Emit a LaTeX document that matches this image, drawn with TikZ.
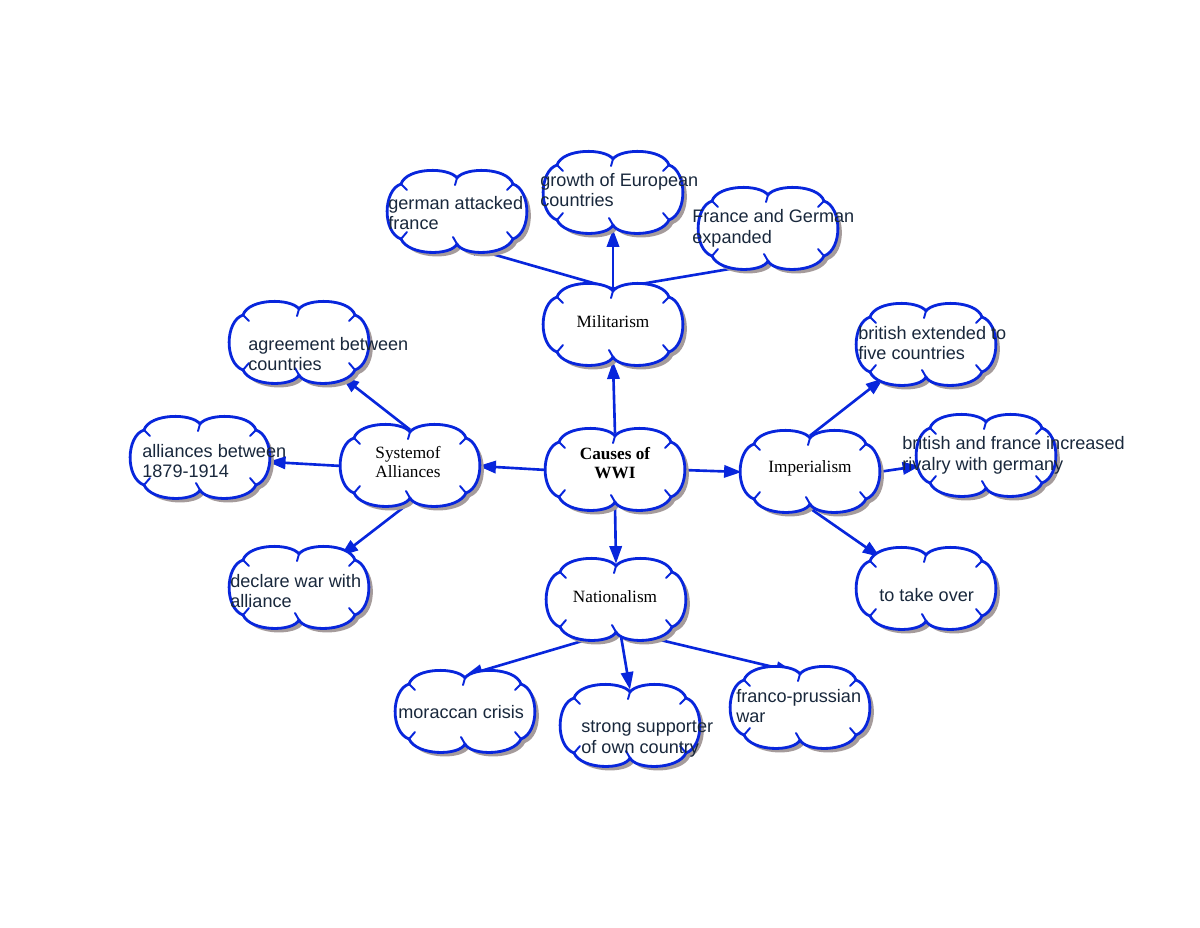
\documentclass[tikz,border=0pt]{standalone}
\usepackage{fontspec}
\setmainfont{Liberation Serif}
\newfontfamily\lsans{Liberation Sans}
\usetikzlibrary{shapes.geometric,arrows.meta,backgrounds}
\definecolor{cblue}{RGB}{8,38,220}
\definecolor{ctext}{RGB}{25,40,60}
\definecolor{cshadow}{RGB}{165,155,155}
\def\cloudshape{(0,-34) .. controls (8,-45) and (50,-45) .. (56,-28)
  .. controls (74,-22) and (75,20) .. (56,27)
  .. controls (48,44) and (6,44) .. (0,32)
  .. controls (-6,44) and (-48,44) .. (-56,27)
  .. controls (-75,20) and (-74,-22) .. (-56,-28)
  .. controls (-50,-45) and (-8,-45) .. cycle}
\newcommand\mkcloud[3]{%
  \begin{scope}[shift={(#2,#3)}]
    \fill[cshadow] [shift={(4,4)}] \cloudshape;
    \filldraw[cloudline, fill=white] \cloudshape;
    \draw[tickline] (56,-28) -- (50,-22);
    \draw[tickline] (56,27) -- (50,20);
    \draw[tickline] (-56,27) -- (-50,20);
    \draw[tickline] (-56,-28) -- (-50,-22);
    \draw[tickline] (0,-34) -- (-2,-27);
    \draw[tickline] (0,32) -- (-4,25);
  \end{scope}
  \node[hold] (#1) at (#2,#3) {};}
\begin{document}
\begin{tikzpicture}[x=0.02cm,y=-0.02cm,
 cloudline/.style={draw=cblue, line width=1.6pt, line join=round},
 tickline/.style={draw=cblue, line width=1.1pt, line cap=round},
 hold/.style={ellipse, minimum width=2.72cm, minimum height=1.44cm, inner sep=0pt},
 main/.style={font=\fontsize{9.8}{11}\selectfont, align=center, text=black},
 lbl/.style={anchor=west, inner sep=0pt, align=left, text=ctext,
   font=\lsans\fontsize{10.3}{11.8}\selectfont},
 edge/.style={draw=cblue, line width=1.5pt, -{Triangle[length=10pt,width=7pt]}}]
\useasboundingbox (0,0) rectangle (1200,927);

% main clouds
\mkcloud{cause}{615}{470}
\mkcloud{mil}{613}{325}
\mkcloud{sys}{410}{466}
\mkcloud{imp}{810}{472}
\mkcloud{nat}{616}{600}
% outer clouds
\mkcloud{germ}{457}{212}
\mkcloud{grow}{613}{193}
\mkcloud{fra}{768}{229}
\mkcloud{agr}{299}{343}
\mkcloud{all}{200}{458}
\mkcloud{decl}{299}{588}
\mkcloud{brx}{926}{345}
\mkcloud{brf}{986}{456}
\mkcloud{take}{926}{589}
\mkcloud{mor}{465}{712}
\mkcloud{str}{630}{726}
\mkcloud{frp}{800}{708}

% main labels
\node[main, font=\bfseries\fontsize{9.8}{11}\selectfont] (tcause) at (615,463) {Causes of\\WWI};
\node[main] (tmil) at (613,322) {Militarism};
\node[main] (tsys) at (408,462) {Systemof\\Alliances};
\node[main] (timp) at (810,468) {Imperialism};
\node[main] (tnat) at (615,597) {Nationalism};

% outer labels
\node[lbl] (tgerm) at (388,213) {german attacked\\france};
\node[lbl] (tgrow) at (540,190) {growth of European\\countries};
\node[lbl] (tfra) at (692,228) {France and German\\expanded};
\node[lbl] (tagr) at (248,354) {agreement between\\countries};
\node[lbl] (tall) at (142,461) {alliances between\\1879-1914};
\node[lbl] (tdecl) at (230,591) {declare war with\\alliance};
\node[lbl] (tbrx) at (858,343) {british extended to\\five countries};
\node[lbl] (tbrf) at (902,455) {british and france increased\\rivalry with germany};
\node[lbl] (ttake) at (879,595) {to take over};
\node[lbl] (tmor) at (398,712) {moraccan crisis};
\node[lbl] (tstr) at (581,739) {strong supporter\\of own country};
\node[lbl] (tfrp) at (736,706) {franco-prussian\\war};

\begin{scope}[on background layer]
\draw[edge] (cause.north) -- (mil.south);
\draw[edge] (cause.west) -- (sys.east);
\draw[edge] (cause.east) -- (imp.west);
\draw[edge] (cause.south) -- (nat.north);
\draw[edge] (mil.north) -- (grow.south);
\draw[edge, shorten >=-6pt] (mil.north) -- (germ.-70);
\draw[edge, shorten >=-6pt] (mil.north) -- (fra.-110);
\draw[edge, shorten >=3pt] (sys.north) -- (agr);
\draw[edge] (sys.west) -- (all);
\draw[edge, shorten >=2pt] (sys.south) -- (decl);
\draw[edge, shorten >=3pt] (imp.north) -- (brx);
\draw[edge] (imp.east) -- (brf);
\draw[edge, shorten >=3pt] (imp.south) -- (take);
\draw[edge] ([xshift=-0.36cm]nat.south) -- (mor.north);
\draw[edge] ([xshift=0.1cm]nat.south) -- (str.north);
\draw[edge] ([xshift=0.58cm]nat.south) -- (frp.100);
\end{scope}
\end{tikzpicture}
\end{document}
